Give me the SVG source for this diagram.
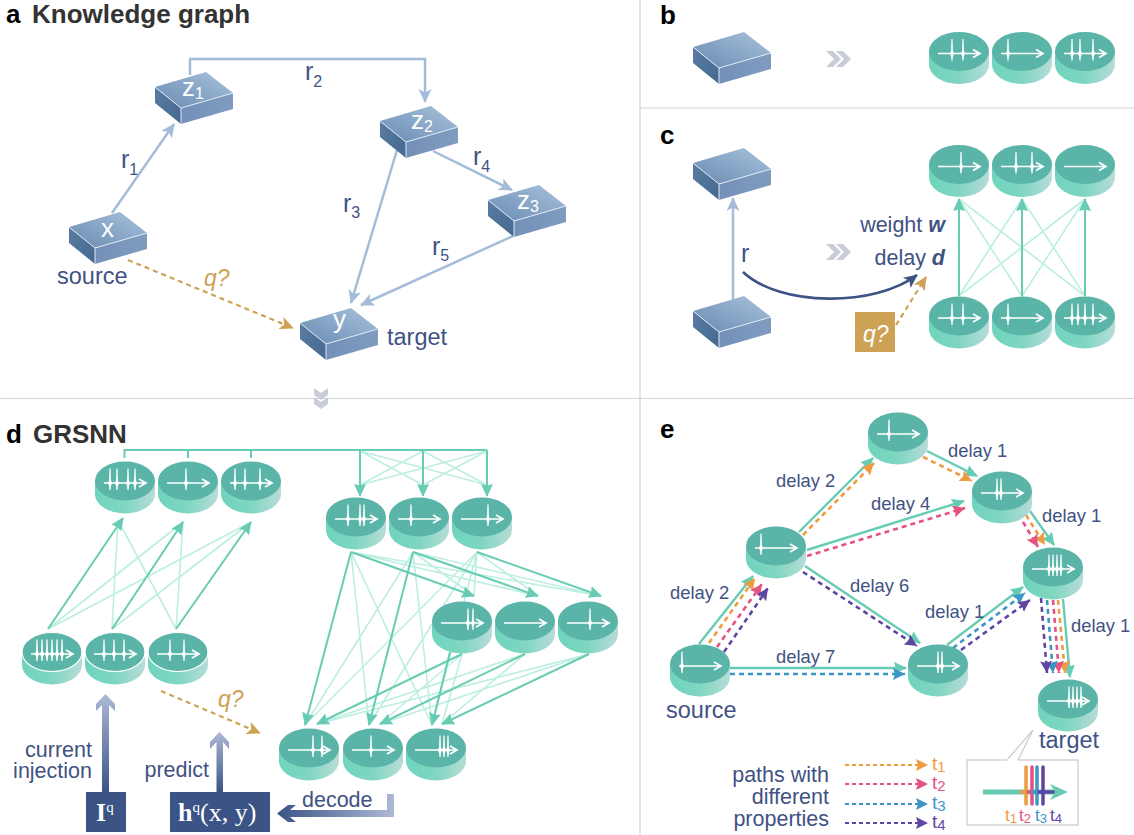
<svg xmlns="http://www.w3.org/2000/svg" width="1134" height="835" viewBox="0 0 1134 835">
<style>
text{font-family:"Liberation Sans",Arial,sans-serif;fill:#3f5283}
.hd{font-weight:bold;font-size:26px;fill:#000}
.ttl{font-weight:bold;font-size:26px;fill:#333}
.l{font-size:23.5px}.m{font-size:21.5px}.dl{font-size:18.4px}.rr{font-size:25px}
.wn{font-size:26px;fill:#fff}
.sub{font-size:16px}
.q{font-size:23px;font-style:italic;fill:#cda255}
.r{text-anchor:end}
.div{stroke:#d2d3d6;stroke-width:1.2;fill:none}
.bx{fill:none;stroke:#a5bcd9;stroke-width:2.5}
.gd{fill:none;stroke:#cda255;stroke-width:2.2;stroke-dasharray:5 4}
.st{fill:none;stroke:#68ccb5;stroke-width:2}
.te{fill:none;stroke:#68ccb5;stroke-width:2.4}
.lt{fill:none;stroke:#bcefe0;stroke-width:1.6}
.or,.pk,.bl,.pu{fill:none;stroke-width:2.6;stroke-dasharray:5 4}
.or{stroke:#ef9b3e}.pk{stroke:#e4527f}.bl{stroke:#3b96c8}.pu{stroke:#5f46a3}
.s{fill:none;stroke:#fff;stroke-width:1.7}
.rim{fill:none;stroke:#fff;stroke-width:1.2}
.chev{fill:#c9cdd9}
.lg{stroke-width:2;stroke-dasharray:4 3}
.nv{fill:#3b5485}
.white{fill:#fff;font-family:"Liberation Serif","Times New Roman",serif;font-size:26px}
.sm{font-size:19px}
</style>
<defs>
<linearGradient id="gTop" x1="0" y1="1" x2="1" y2="0"><stop offset="0" stop-color="#688ab2"/><stop offset="1" stop-color="#a9c3dc"/></linearGradient>
<linearGradient id="gLeft" x1="0" y1="0" x2="1" y2="1"><stop offset="0" stop-color="#5a7ca3"/><stop offset="1" stop-color="#44688f"/></linearGradient>
<linearGradient id="gRight" x1="0" y1="0" x2="1" y2="0"><stop offset="0" stop-color="#7490b8"/><stop offset="1" stop-color="#7f9cc0"/></linearGradient>
<linearGradient id="gDisk" x1="0" y1="0" x2="1" y2="0"><stop offset="0" stop-color="#6fd4bc"/><stop offset=".5" stop-color="#80d6c1"/><stop offset="1" stop-color="#b7dcd8"/></linearGradient>
<linearGradient id="gUp" x1="0" y1="1" x2="0" y2="0"><stop offset="0" stop-color="#3b5485"/><stop offset="1" stop-color="#adb9d6"/></linearGradient>
<linearGradient id="gLeftArr" gradientUnits="userSpaceOnUse" x1="277" y1="0" x2="394" y2="0"><stop offset="0" stop-color="#3b5485"/><stop offset="1" stop-color="#adb9d6"/></linearGradient>
<marker id="mB" markerUnits="userSpaceOnUse" markerWidth="15" markerHeight="15" refX="13" refY="7" orient="auto"><path d="M0 0.5L14 7L0 13.500L3.500 7z" fill="#a5bcd9"/></marker>
<marker id="mG" markerUnits="userSpaceOnUse" markerWidth="15" markerHeight="15" refX="13" refY="7" orient="auto"><path d="M0 0.5L14 7L0 13.500L3.500 7z" fill="#cda255"/></marker>
<marker id="mN" markerUnits="userSpaceOnUse" markerWidth="15" markerHeight="15" refX="13" refY="7" orient="auto"><path d="M0 0.5L14 7L0 13.500L3.500 7z" fill="#3b5485"/></marker>
<marker id="mT" markerUnits="userSpaceOnUse" markerWidth="15" markerHeight="15" refX="12" refY="6.500" orient="auto"><path d="M0 0.5L13 6.500L0 12.500L1.500 6.500z" fill="#68ccb5"/></marker>
<marker id="mO" markerUnits="userSpaceOnUse" markerWidth="15" markerHeight="15" refX="12" refY="6" orient="auto"><path d="M0 0L12 6L0 12L2 6z" fill="#ef9b3e"/></marker>
<marker id="mP" markerUnits="userSpaceOnUse" markerWidth="15" markerHeight="15" refX="12" refY="6" orient="auto"><path d="M0 0L12 6L0 12L2 6z" fill="#e4527f"/></marker>
<marker id="mL" markerUnits="userSpaceOnUse" markerWidth="15" markerHeight="15" refX="12" refY="6" orient="auto"><path d="M0 0L12 6L0 12L2 6z" fill="#3b96c8"/></marker>
<marker id="mU" markerUnits="userSpaceOnUse" markerWidth="15" markerHeight="15" refX="12" refY="6" orient="auto"><path d="M0 0L12 6L0 12L2 6z" fill="#5f46a3"/></marker>
<g id="box">
<polygon points="0,0 26,21 26,37 0,16" fill="url(#gLeft)"/>
<polygon points="26,21 78,6 78,22 26,37" fill="url(#gRight)"/>
<polygon points="0,0 51,-15 78,6 26,21" fill="url(#gTop)"/>
<path d="M0 0L26 21L78 6M26 21V37" fill="none" stroke="#dfe8f2" stroke-width="1"/>
</g>
<g id="disk">
<path d="M-30 0V13A30 19.500 0 0 0 30 13V0z" fill="url(#gDisk)"/>
<ellipse cx="0" cy="0" rx="30" ry="19.500" fill="#5ab4a8"/>
<path d="M-21 2H20M14-2L21 2L14 6" class="s"/>
</g>
<path id="k" fill="#fff" d="M-.6-12.500H.6L.9-1L2 2L.9 5L.6 9H-.6L-.9 5L-2 2L-.9-1z"/>
<path id="chv" d="M0 0H7L15 8L7 16H0L8 8zM10 0H17L25 8L17 16H10L18 8z"/>
</defs>

<g id="panel-dividers">
<path class="div" d="M640 0V835M0 398.500H1134M640 108H1134"/>
<path class="chev" d="M314 388L321 393L328 388V395L321 400L314 395zM314 397L321 402L328 397V404L321 409L314 404z"/>
<use href="#chv" x="826" y="51" class="chev"/>
<use href="#chv" x="826" y="244" class="chev"/>
</g>

<g id="connectors">
<path class="bx" d="M112 213L174 124" marker-end="url(#mB)"/>
<path class="bx" d="M190 75V59H425V102" marker-end="url(#mB)"/>
<path class="bx" d="M397 150L351 303" marker-end="url(#mB)"/>
<path class="bx" d="M433 151L512 190" marker-end="url(#mB)"/>
<path class="bx" d="M513 236L361 305" marker-end="url(#mB)"/>
<path class="gd" d="M128 260L293 328" marker-end="url(#mG)"/>
<path class="bx" d="M733 300V198" marker-end="url(#mB)"/>
<path fill="none" stroke="#3b5485" stroke-width="2.600" d="M743 272C780 307 875 307 917 275" marker-end="url(#mN)"/>
<path class="gd" d="M896 325L926 277" marker-end="url(#mG)"/>
<path class="lt" d="M959 296L1022 199M959 296L1085 199M1022 296L959 199M1022 296L1085 199M1085 296L959 199M1085 296L1022 199"/>
<path class="st" d="M959 296V199" marker-end="url(#mT)"/>
<path class="st" d="M1022 296V199" marker-end="url(#mT)"/>
<path class="st" d="M1085 296V199" marker-end="url(#mT)"/>
<path class="lt" d="M48 629L183 522M48 629L251 522M112 629L118 520M112 629L251 522M176 629L118 520M176 629L183 522"/>
<path class="st" d="M48 629L123 518" marker-end="url(#mT)"/>
<path class="st" d="M112 629L183 522" marker-end="url(#mT)"/>
<path class="st" d="M176 629L251 522" marker-end="url(#mT)"/>
<path class="st" d="M124.500 458V450H487M188 450V458M251 450V458"/>
<path class="lt" d="M360 451L423 485M360 451L487 485M423 451L360 485M423 451L487 485M487 451L360 485M487 451L423 485"/>
<path class="st" d="M360 450V496" marker-end="url(#mT)"/>
<path class="st" d="M423 450V496" marker-end="url(#mT)"/>
<path class="st" d="M487 450V496" marker-end="url(#mT)"/>
<path class="lt" d="M351 552L538 596M351 552L601 596M413 552L474 596M413 552L601 596M477 552L474 596M477 552L538 596"/>
<path class="lt" d="M351 552L369 725M351 552L432 725M413 552L305 725M413 552L432 725M477 552L305 725M477 552L369 725M477 552L432 725"/>
<path class="lt" d="M462 654L380 724M462 654L442 724M525 654L317 724M525 654L442 724M589 654L317 724M589 654L380 724"/>
<path class="st" d="M351 552L474 596" marker-end="url(#mT)"/>
<path class="st" d="M413 552L538 596" marker-end="url(#mT)"/>
<path class="st" d="M477 552L601 596" marker-end="url(#mT)"/>
<path class="st" d="M351 552L305 725" marker-end="url(#mT)"/>
<path class="st" d="M413 552L369 725" marker-end="url(#mT)"/>
<path class="st" d="M450 652L432 725" marker-end="url(#mT)"/>
<path class="st" d="M462 654L317 724" marker-end="url(#mT)"/>
<path class="st" d="M525 654L380 724" marker-end="url(#mT)"/>
<path class="st" d="M589 654L442 724" marker-end="url(#mT)"/>
<path class="gd" d="M161 691L260 733" marker-end="url(#mG)"/>
<path class="te" d="M699 644L753 576" marker-end="url(#mT)"/>
<path class="or" d="M709 643L755 578" marker-end="url(#mO)"/>
<path class="pk" d="M717 647L762 584" marker-end="url(#mP)"/>
<path class="pu" d="M724 652L768 588" marker-end="url(#mU)"/>
<path class="te" d="M799 532L873 458" marker-end="url(#mT)"/>
<path class="or" d="M803 535L874 463" marker-end="url(#mO)"/>
<path class="te" d="M807 550L964 501" marker-end="url(#mT)"/>
<path class="pk" d="M807 556L965 508" marker-end="url(#mP)"/>
<path class="te" d="M805 566L920 643" marker-end="url(#mT)"/>
<path class="pu" d="M803 572L917 646" marker-end="url(#mU)"/>
<path class="te" d="M730 668H906" marker-end="url(#mT)"/>
<path class="bl" d="M730 674H905" marker-end="url(#mL)"/>
<path class="te" d="M927 451L977 476" marker-end="url(#mT)"/>
<path class="or" d="M923 457L972 481" marker-end="url(#mO)"/>
<path class="te" d="M1030 511L1054 545" marker-end="url(#mT)"/>
<path class="or" d="M1026 515L1045 545" marker-end="url(#mO)"/>
<path class="pk" d="M1023 522L1038 547" marker-end="url(#mP)"/>
<path class="te" d="M947 645L1023 587" marker-end="url(#mT)"/>
<path class="bl" d="M953 648L1025 593" marker-end="url(#mL)"/>
<path class="pu" d="M961 650L1030 600" marker-end="url(#mU)"/>
<path class="te" d="M1063 599L1070 677" marker-end="url(#mT)"/>
<path class="or" d="M1058 600L1065 673" marker-end="url(#mO)"/>
<path class="pk" d="M1053 600L1059 673" marker-end="url(#mP)"/>
<path class="bl" d="M1047 600L1053 673" marker-end="url(#mL)"/>
<path class="pu" d="M1041 598L1047 673" marker-end="url(#mU)"/>
<path class="or lg" d="M845 765H928" marker-end="url(#mO)"/>
<path class="pk lg" d="M845 784H928" marker-end="url(#mP)"/>
<path class="bl lg" d="M845 804H928" marker-end="url(#mL)"/>
<path class="pu lg" d="M845 823H928" marker-end="url(#mU)"/>
</g>

<g id="node-x" transform="translate(69,227)"><use href="#box"/><text class="wn" x="32" y="10">x</text></g>
<g id="node-z1" transform="translate(155,87)"><use href="#box"/><text class="wn" x="27" y="9">z<tspan class="sub" dy="3" style="fill:#fff">1</tspan></text></g>
<g id="node-z2" transform="translate(380,121)"><use href="#box"/><text class="wn" x="31" y="8">z<tspan class="sub" dy="3" style="fill:#fff">2</tspan></text></g>
<g id="node-z3" transform="translate(488,200)"><use href="#box"/><text class="wn" x="29" y="9">z<tspan class="sub" dy="3" style="fill:#fff">3</tspan></text></g>
<g id="node-y" transform="translate(300,323)"><use href="#box"/><text class="wn" x="33" y="5">y</text></g>
<g id="node-b-relation" transform="translate(693,47)"><use href="#box"/></g>
<g id="node-c-rel-top" transform="translate(693,163)"><use href="#box"/></g>
<g id="node-c-rel-bottom" transform="translate(693,311)"><use href="#box"/></g>

<g id="node-b1" transform="translate(959,51.500)"><use href="#disk"/><use href="#k" x="-7"/><use href="#k" x="4"/></g>
<g id="node-b2" transform="translate(1022,51.500)"><use href="#disk"/><use href="#k" x="-14"/></g>
<g id="node-b3" transform="translate(1085,51.500)"><use href="#disk"/><use href="#k" x="-13"/><use href="#k" x="-5"/><use href="#k" x="8"/></g>
<g id="node-c1" transform="translate(959,164.500)"><use href="#disk"/><use href="#k" x="2"/></g>
<g id="node-c2" transform="translate(1022,164.500)"><use href="#disk"/><use href="#k" x="-6"/><use href="#k" x="10"/></g>
<g id="node-c3" transform="translate(1085,164.500)"><use href="#disk"/></g>
<g id="node-c4" transform="translate(959,316)"><use href="#disk"/><use href="#k" x="-7"/><use href="#k" x="4"/></g>
<g id="node-c5" transform="translate(1022,316)"><use href="#disk"/><use href="#k" x="-14"/></g>
<g id="node-c6" transform="translate(1085,316)"><use href="#disk"/><use href="#k" x="-13"/><use href="#k" x="-7"/><use href="#k" x="0"/><use href="#k" x="8"/></g>

<g id="node-d1" transform="translate(125,481)"><use href="#disk"/><use href="#k" x="-15"/><use href="#k" x="-8"/><use href="#k" x="3"/><use href="#k" x="10"/></g>
<g id="node-d2" transform="translate(188,481)"><use href="#disk"/><use href="#k" x="-2"/></g>
<g id="node-d3" transform="translate(251,481)"><use href="#disk"/><use href="#k" x="-16"/><use href="#k" x="-6"/><use href="#k" x="9"/></g>
<g id="node-d4" transform="translate(52,652)"><use href="#disk"/><ellipse class="rim" rx="30" ry="19.500"/><use href="#k" x="-15"/><use href="#k" x="-10"/><use href="#k" x="-5"/><use href="#k" x="0"/><use href="#k" x="5"/><use href="#k" x="10"/></g>
<g id="node-d5" transform="translate(115,652)"><use href="#disk"/><ellipse class="rim" rx="30" ry="19.500"/><use href="#k" x="-11"/><use href="#k" x="-1"/><use href="#k" x="9"/></g>
<g id="node-d6" transform="translate(178,652)"><use href="#disk"/><ellipse class="rim" rx="30" ry="19.500"/><use href="#k" x="-8"/><use href="#k" x="6"/></g>
<g id="node-d7" transform="translate(356,517)"><use href="#disk"/><use href="#k" x="-8"/><use href="#k" x="4"/><use href="#k" x="8"/></g>
<g id="node-d8" transform="translate(419,517)"><use href="#disk"/><use href="#k" x="-8"/></g>
<g id="node-d9" transform="translate(482,517)"><use href="#disk"/><use href="#k" x="6"/></g>
<g id="node-d10" transform="translate(462,621)"><use href="#disk"/><use href="#k" x="6"/><use href="#k" x="11"/></g>
<g id="node-d11" transform="translate(525,621)"><use href="#disk"/></g>
<g id="node-d12" transform="translate(588,621)"><use href="#disk"/><use href="#k" x="2"/></g>
<g id="node-d13" transform="translate(309,748)"><use href="#disk"/><use href="#k" x="4"/><use href="#k" x="13"/></g>
<g id="node-d14" transform="translate(373,748)"><use href="#disk"/><use href="#k" x="-2"/></g>
<g id="node-d15" transform="translate(436,748)"><use href="#disk"/><use href="#k" x="4"/><use href="#k" x="8"/><use href="#k" x="12"/></g>

<g id="node-e-top" transform="translate(898,432)"><use href="#disk"/><use href="#k" x="-9"/></g>
<g id="node-e-mid" transform="translate(776,546)"><use href="#disk"/><use href="#k" x="-15"/></g>
<g id="node-e-source" transform="translate(700,664)"><use href="#disk"/><use href="#k" x="-18"/></g>
<g id="node-e-low" transform="translate(938,664)"><use href="#disk"/><use href="#k" x="0"/><use href="#k" x="4"/></g>
<g id="node-e-ur" transform="translate(1002,491)"><use href="#disk"/><use href="#k" x="-5"/><use href="#k" x="-1"/></g>
<g id="node-e-pre" transform="translate(1053,567)"><use href="#disk"/><use href="#k" x="-4"/><use href="#k" x="0"/><use href="#k" x="4"/><use href="#k" x="8"/></g>
<g id="node-e-target" transform="translate(1068,699)"><use href="#disk"/><use href="#k" x="1"/><use href="#k" x="5"/><use href="#k" x="9"/><use href="#k" x="13"/></g>

<g id="node-q-box"><rect x="855" y="312" width="40" height="40" fill="#cda255"/><text class="q" x="863" y="342" style="fill:#fff">q?</text></g>
<g id="node-Iq"><rect x="86" y="792" width="40" height="40" class="nv"/><text class="white" x="96" y="821"><tspan font-weight="bold" style="fill:#fff">I</tspan><tspan font-size="15" dy="-9" style="fill:#fff">q</tspan></text></g>
<g id="node-hq"><rect x="170" y="792" width="100" height="40" class="nv"/><text class="white" x="178" y="821"><tspan font-weight="bold" style="fill:#fff">h</tspan><tspan font-size="15" dy="-9" style="fill:#fff">q</tspan><tspan dy="9" style="fill:#fff">(x, y)</tspan></text></g>

<g id="big-arrows">
<path fill="url(#gUp)" d="M102 792V705L96 711V704L105.500 694L115 704V711L109 705V792z"/>
<path fill="url(#gUp)" d="M216.500 792V742L210 749V742L219.500 732L229 742V749L223 742V792z"/>
<path fill="url(#gLeftArr)" d="M394 794H387V810H290L296 805H288L277 813.500L288 822H296L290 817H394z"/>
</g>

<g id="callout">
<path d="M1007 760L1033 730L1018 760" fill="#fff" stroke="#c8cad2" stroke-width="1.200"/>
<rect x="967" y="760" width="111" height="65" fill="#fff" stroke="#c8cad2" stroke-width="1.200"/>
<path d="M1007.500 760H1017.500" stroke="#fff" stroke-width="2"/>
<path d="M983 792H1058" stroke="#68ccb5" stroke-width="5" fill="none"/>
<path d="M1068 792L1050 784L1055 792L1050 800z" fill="#68ccb5"/>
<g fill="none" stroke-width="3.500" stroke-linecap="round">
<path d="M1021 792H1030M1026 767V804" stroke="#ef9b3e"/>
<path d="M1028 792H1036M1032 767V804" stroke="#e4527f"/>
<path d="M1033 792H1042M1037 767V804" stroke="#3b96c8"/>
<path d="M1039 792H1053M1043 767V804" stroke="#5f46a3"/>
</g>
</g>

<g id="labels">
<text class="hd" x="6" y="23">a</text><text class="ttl" x="32" y="23">Knowledge graph</text>
<text class="hd" x="660" y="24">b</text>
<text class="hd" x="660" y="144">c</text>
<text class="hd" x="6" y="443">d</text><text class="ttl" x="33" y="443">GRSNN</text>
<text class="hd" x="660" y="438">e</text>

<text class="rr" x="121" y="168">r<tspan class="sub" dy="7">1</tspan></text>
<text class="rr" x="305" y="80">r<tspan class="sub" dy="7">2</tspan></text>
<text class="rr" x="343" y="212">r<tspan class="sub" dy="6">3</tspan></text>
<text class="rr" x="473" y="165">r<tspan class="sub" dy="7">4</tspan></text>
<text class="rr" x="432" y="255">r<tspan class="sub" dy="6">5</tspan></text>
<text class="l" x="57" y="284">source</text>
<text class="l" x="387" y="345">target</text>
<text class="q" x="204" y="286">q?</text>

<text class="rr" x="741" y="262">r</text>
<text class="m r" x="945" y="232">weight <tspan font-weight="bold" font-style="italic">w</tspan></text>
<text class="m r" x="945" y="265">delay <tspan font-weight="bold" font-style="italic">d</tspan></text>

<text class="q" x="218" y="707">q?</text>
<text class="m r" x="92" y="757">current</text>
<text class="m r" x="92" y="778">injection</text>
<text class="m r" x="209" y="777">predict</text>
<text class="m" x="302" y="807">decode</text>

<text class="dl" x="776" y="487">delay 2</text>
<text class="dl" x="871" y="510">delay 4</text>
<text class="dl" x="850" y="592">delay 6</text>
<text class="dl" x="776" y="663">delay 7</text>
<text class="dl" x="670" y="599">delay 2</text>
<text class="dl" x="925" y="618">delay 1</text>
<text class="dl" x="948" y="457">delay 1</text>
<text class="dl" x="1042" y="522">delay 1</text>
<text class="dl" x="1071" y="632">delay 1</text>
<text class="l" x="666" y="718">source</text>
<text class="l" x="1039" y="748">target</text>

<text class="m r" x="829" y="782">paths with</text>
<text class="m r" x="829" y="804">different</text>
<text class="m r" x="829" y="826">properties</text>
<text class="sm" x="932" y="770" style="fill:#ef9b3e">t<tspan font-size="15" dy="2" style="fill:#ef9b3e">1</tspan></text>
<text class="sm" x="932" y="789" style="fill:#e4527f">t<tspan font-size="15" dy="2" style="fill:#e4527f">2</tspan></text>
<text class="sm" x="932" y="809" style="fill:#3b96c8">t<tspan font-size="15" dy="2" style="fill:#3b96c8">3</tspan></text>
<text class="sm" x="932" y="828" style="fill:#5f46a3">t<tspan font-size="15" dy="2" style="fill:#5f46a3">4</tspan></text>
<text x="1005" y="821" font-size="17" style="fill:#ef9b3e">t<tspan font-size="13" dy="2" style="fill:#ef9b3e">1</tspan></text>
<text x="1019" y="821" font-size="17" style="fill:#e4527f">t<tspan font-size="13" dy="2" style="fill:#e4527f">2</tspan></text>
<text x="1035" y="821" font-size="17" style="fill:#3b96c8">t<tspan font-size="13" dy="2" style="fill:#3b96c8">3</tspan></text>
<text x="1050" y="821" font-size="17" style="fill:#5f46a3">t<tspan font-size="13" dy="2" style="fill:#5f46a3">4</tspan></text>
</g>
</svg>
